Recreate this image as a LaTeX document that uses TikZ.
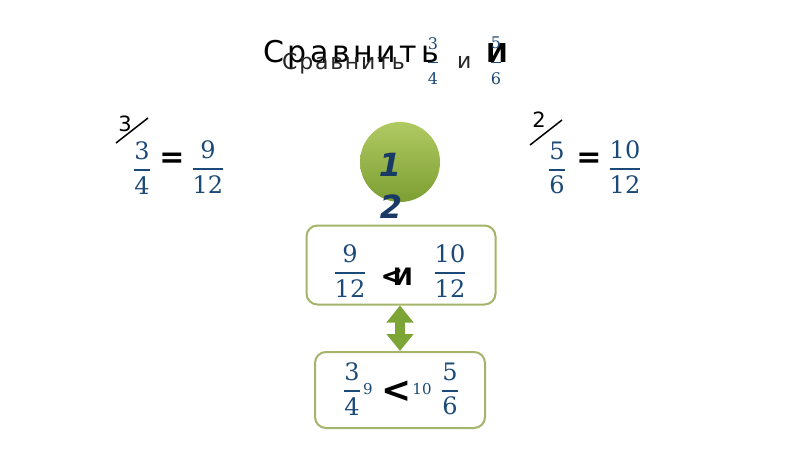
\documentclass[tikz,border=0pt]{standalone}
\usepackage{fontspec}
\newfontfamily\rusans{DejaVu Sans}
\newfontfamily\rutitle[LetterSpace=12]{DejaVu Sans}
\newfontfamily\rusub[LetterSpace=8]{DejaVu Sans}
\newfontfamily\fracfont{DejaVu Serif}
\usepackage{amsmath}
\usepackage{xcolor}
\usetikzlibrary{positioning,arrows.meta,calc}

\definecolor{fracblue}{HTML}{1B4A78}
\definecolor{ballnavy}{HTML}{1A3A66}
\definecolor{boxolive}{HTML}{A4B46A}
\definecolor{leafgreen}{HTML}{7CA536}
\definecolor{ballhi}{HTML}{B0CA62}
\definecolor{balllo}{HTML}{7C9E33}

\newcommand{\ffrac}[3][1.8pt]{\ensuremath{\genfrac{}{}{#1}{0}{\text{\fracfont #2}}{\text{\fracfont #3}}}}
\newcommand{\headfrac}[2]{\ffrac[1.2pt]{\raisebox{6pt}{#1}}{\raisebox{-6pt}{#2}}}

\begin{document}
\begin{tikzpicture}[x=1pt,y=-1pt,
		bigfrac/.style={text=fracblue,inner sep=0pt,font=\fontsize{24}{28}\selectfont},
		tinyfrac/.style={text=fracblue,inner sep=0pt,font=\fontsize{16}{19}\selectfont},
		smallnum/.style={text=fracblue,inner sep=0pt,font=\fracfont\fontsize{15}{18}\selectfont},
		eqsign/.style={inner sep=0pt,font=\rusans\bfseries\fontsize{30}{34}\selectfont},
		mult/.style={inner sep=0pt,font=\rusans\fontsize{21}{25}\selectfont},
		fbox/.style={draw=boxolive,line width=2pt,rounded corners=11pt,fill=white},
		dblarrow/.style={draw=leafgreen,line width=10pt,
			{Triangle[width=26pt,length=17pt]}-{Triangle[width=26pt,length=17pt]}}]
		
		\useasboundingbox[fill=white] (0,0) rectangle (800,450);
		
		% title, two layers on top of each other
		\node[anchor=base west,inner sep=0pt,font=\rutitle\fontsize{30}{34}\selectfont] (ttl) at (263,62) {Сравнить};
		
		\node[anchor=base west,inner sep=0pt,font=\rusans\bfseries\fontsize{26}{30}\selectfont] (ttlI) at (486,62) {И};
		
		\node[anchor=base west,inner sep=0pt,text=black!85,font=\rusub\fontsize{22}{26}\selectfont] (sub) at (282,69) {Сравнить};
		
		\node[anchor=base west,inner sep=0pt,text=black!85,font=\rusans\fontsize{22}{26}\selectfont] (subI) at (457,68) {и};
		
		\node[tinyfrac] (subA) at (433,61) {\headfrac{3}{4}};
		
		\node[tinyfrac] (subB) at (496,61) {\headfrac{5}{6}};
		
		% left
		\node[mult] (mA) at (125,124) {3};
		
		\draw[line width=1.5pt] (116,143) -- (148,118);
		
		\node[bigfrac] (fA) at (142,168) {\ffrac{3}{4}};
		
		\node[eqsign] (eqA) at (172,160) {=};
		
		\node[bigfrac] (gA) at (208,167) {\ffrac{9}{12}};
		
		% right
		\node[mult] (mB) at (539,120) {2};
		
		\draw[line width=1.5pt] (530,145) -- (562,120);
		
		\node[bigfrac] (fB) at (557,168) {\ffrac{5}{6}};
		
		\node[eqsign] (eqB) at (589,160) {=};
		
		\node[bigfrac] (gB) at (625,167) {\ffrac{10}{12}};
		
		% common denominator
		\node[circle,minimum size=80pt,inner sep=0pt,top color=ballhi,bottom color=balllo] (ball) at (400,162) {};
		
		\node[inner sep=0pt,text=ballnavy,font=\rusans\bfseries\itshape\fontsize{32}{36}\selectfont] (one) at (390,165) {1};
		
		\node[inner sep=0pt,text=ballnavy,font=\rusans\bfseries\itshape\fontsize{32}{36}\selectfont] (two) at (391,207) {2};
		
		% boxes
		\node[fbox,minimum width=189pt,minimum height=79pt] (box1) at (401,265) {};
		
		\node[fbox,minimum width=170pt,minimum height=76pt] (box2) at (400,390) {};
		
		\draw[dblarrow] (box2.north |- box1.south) -- (box2.north);
		
		\node[bigfrac] (hA) at (350,271) {\ffrac{9}{12}};
		
		\node[bigfrac] (hB) at (450,271) {\ffrac{10}{12}};
		
		\node[inner sep=0pt,font=\rusans\bfseries\fontsize{27}{30}\selectfont] (lt1) at (392,277) {<};
		
		\node[inner sep=0pt,font=\rusans\bfseries\fontsize{24}{28}\selectfont] (and1) at (403,277) {И};
		
		\node[bigfrac] (kA) at (352,389) {\ffrac{3}{4}};
		
		\node[bigfrac] (kB) at (450,389) {\ffrac{5}{6}};
		
		\node[smallnum] (nA) at (368,389) {9};
		
		\node[smallnum] (nB) at (422,389) {10};
		
		\node[inner sep=0pt,font=\rusans\bfseries\fontsize{36}{40}\selectfont] (lt2) at (397,392) {<};
		
	\end{tikzpicture}
\end{document}
